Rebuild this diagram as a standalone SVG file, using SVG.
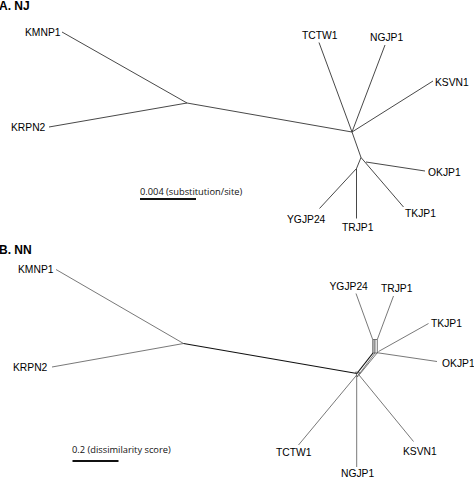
<svg xmlns="http://www.w3.org/2000/svg" width="474" height="478" viewBox="0 0 474 478">
<style>
.t{font-family:"Liberation Sans",Arial,sans-serif;font-size:10.3px;fill:#000}
.h{font-family:"Liberation Sans",Arial,sans-serif;font-size:12px;font-weight:bold;fill:#000}
.s{font-family:"Open Sans","Liberation Sans",sans-serif;font-size:9.3px;fill:#111}
.e{stroke:#333;stroke-width:0.9;fill:none}
.g{stroke:#555;stroke-width:0.8;fill:none}
.k{stroke:#111;stroke-width:1.2;fill:none}
.bar{stroke:#111;stroke-width:1.8}
</style>
<rect width="474" height="478" fill="#fff"/>
<text class="h" x="-1" y="9.5">A. NJ</text>
<text class="h" x="-1" y="254">B. NN</text>
<g id="connectors">
<g id="treeA">
<line class="e" x1="62" y1="32" x2="187" y2="103"/>
<line class="e" x1="49" y1="127" x2="187" y2="103"/>
<line class="e" x1="187" y1="103" x2="352" y2="132"/>
<line class="e" x1="319" y1="42.5" x2="352" y2="132"/>
<line class="e" x1="385" y1="45" x2="352" y2="132"/>
<line class="e" x1="433" y1="81" x2="352" y2="132"/>
<line class="e" x1="352" y1="132" x2="361" y2="157.5"/>
<line class="e" x1="361" y1="157.5" x2="403.5" y2="207"/>
<line class="e" x1="366" y1="162" x2="425" y2="171"/>
<line class="e" x1="361" y1="157.5" x2="356.5" y2="168.5"/>
<line class="e" x1="356.5" y1="168.5" x2="356.5" y2="218.5"/>
<line class="e" x1="356.5" y1="168.5" x2="319.5" y2="208.5"/>
</g>
<g id="networkB">
<line class="g" x1="56" y1="269.5" x2="183.5" y2="343.5"/>
<line class="g" x1="52" y1="367" x2="183.5" y2="343.5"/>
<line class="k" x1="183.5" y1="343.5" x2="357" y2="373.5"/>
<line class="k" x1="373" y1="353" x2="356.5" y2="374"/>
<line class="g" x1="375" y1="353" x2="358.5" y2="375"/>
<line class="g" x1="377.5" y1="352.5" x2="359.5" y2="374.5"/>
<path class="g" d="M372.7 339.5 L377.3 339.5 L377.3 353 L372.7 353 Z M375 339.5 V353 M374 339.5 V353"/>
<path class="g" d="M355.5 372 L359.5 372.5 L357.5 377 Z"/>
<line class="g" x1="356" y1="293.5" x2="372.7" y2="339.5"/>
<line class="g" x1="393.5" y1="296" x2="377.3" y2="339.5"/>
<line class="g" x1="428.5" y1="323.5" x2="378.5" y2="351.5"/>
<line class="g" x1="437" y1="361.5" x2="377" y2="352.7"/>
<line class="g" x1="298.5" y1="445" x2="356.7" y2="375"/>
<line class="g" x1="356.7" y1="375" x2="356.7" y2="467"/>
<line class="g" x1="413.5" y1="441.5" x2="359" y2="375"/>
</g>
</g>
<g id="nodesA">
<g id="A-KMNP1"><text class="t" x="25" y="36">KMNP1</text></g>
<g id="A-KRPN2"><text class="t" x="11" y="131">KRPN2</text></g>
<g id="A-TCTW1"><text class="t" x="302" y="39">TCTW1</text></g>
<g id="A-NGJP1"><text class="t" x="370" y="40.5">NGJP1</text></g>
<g id="A-KSVN1"><text class="t" x="435" y="86">KSVN1</text></g>
<g id="A-OKJP1"><text class="t" x="428" y="176">OKJP1</text></g>
<g id="A-TKJP1"><text class="t" x="405" y="217">TKJP1</text></g>
<g id="A-TRJP1"><text class="t" x="342" y="231">TRJP1</text></g>
<g id="A-YGJP24"><text class="t" x="287" y="222.5">YGJP24</text></g>
<g id="A-scale"><text class="s" x="140" y="195">0.004 (substitution/site)</text>
<line class="bar" x1="140" y1="199" x2="196" y2="199"/></g>
</g>
<g id="nodesB">
<g id="B-KMNP1"><text class="t" x="18" y="272.5">KMNP1</text></g>
<g id="B-KRPN2"><text class="t" x="13" y="371">KRPN2</text></g>
<g id="B-YGJP24"><text class="t" x="329.5" y="290">YGJP24</text></g>
<g id="B-TRJP1"><text class="t" x="381" y="292">TRJP1</text></g>
<g id="B-TKJP1"><text class="t" x="431" y="326.5">TKJP1</text></g>
<g id="B-OKJP1"><text class="t" x="442" y="367">OKJP1</text></g>
<g id="B-TCTW1"><text class="t" x="276" y="455.5">TCTW1</text></g>
<g id="B-NGJP1"><text class="t" x="341" y="477">NGJP1</text></g>
<g id="B-KSVN1"><text class="t" x="403" y="455">KSVN1</text></g>
<g id="B-scale"><text class="s" x="72" y="453">0.2 (dissimilarity score)</text>
<line class="bar" x1="72.5" y1="461" x2="118.5" y2="461"/></g>
</g>
</svg>
